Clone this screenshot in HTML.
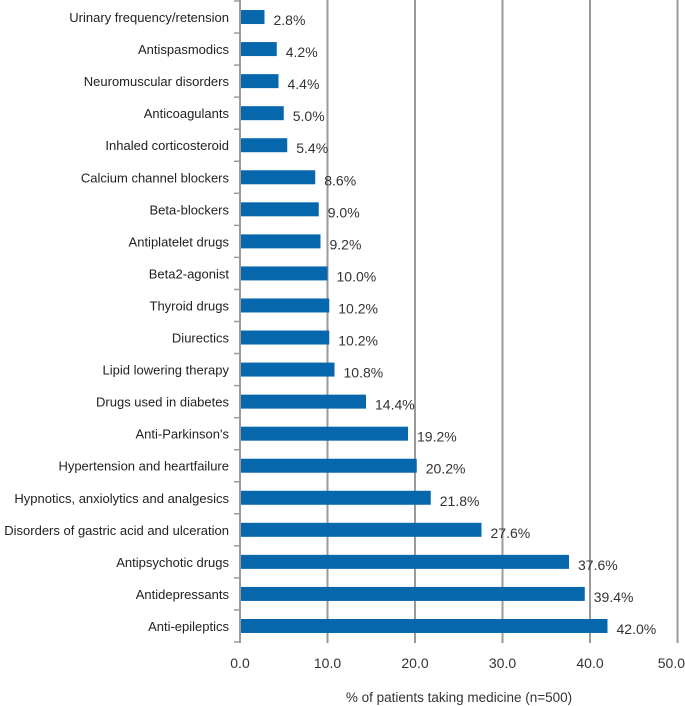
<!DOCTYPE html>
<html><head><meta charset="utf-8"><style>
html,body{margin:0;padding:0;background:#fff;}
svg{display:block;font-family:"Liberation Sans",sans-serif;}
</style></head><body>
<svg id="chart" width="685" height="706"></svg>
<script>
const categories=["Urinary frequency/retension","Antispasmodics","Neuromuscular disorders","Anticoagulants","Inhaled corticosteroid","Calcium channel blockers","Beta-blockers","Antiplatelet drugs","Beta2-agonist","Thyroid drugs","Diurectics","Lipid lowering therapy","Drugs used in diabetes","Anti-Parkinson's","Hypertension and heartfailure","Hypnotics, anxiolytics and analgesics","Disorders of gastric acid and ulceration","Antipsychotic drugs","Antidepressants","Anti-epileptics"];
const values=[2.8,4.2,4.4,5.0,5.4,8.6,9.0,9.2,10.0,10.2,10.2,10.8,14.4,19.2,20.2,21.8,27.6,37.6,39.4,42.0];
const ticks=[0,10,20,30,40,50];
const tickLabels=["0.0","10.0","20.0","30.0","40.0","50.0"];
const NS="http://www.w3.org/2000/svg";
const svg=document.getElementById('chart');
const x0=240,pxPer=8.75,rowTop=1,rowH=32.05,barH=14;
const xs=v=>x0+v*pxPer;
const yc=i=>rowTop+rowH*(i+0.5);
function mk(tag,attrs,parent){const e=document.createElementNS(NS,tag);for(const k in attrs)e.setAttribute(k,attrs[k]);(parent||svg).appendChild(e);return e;}
ticks.forEach((t,i)=>{
 if(i>0){const g=mk('line',{x1:xs(t),x2:xs(t),y1:0,y2:643,stroke:'#9a9a9a','stroke-width':2});
 
 }
 const last=i===ticks.length-1;
 const tl=mk('text',{x:last?685:xs(t),y:668,'text-anchor':last?'end':'middle','font-size':14,fill:'#333'});
 tl.textContent=tickLabels[i];
 
 
});
const ax=mk('line',{x1:x0,x2:x0,y1:0,y2:643,stroke:'#9a9a9a','stroke-width':2});


for(let i=0;i<=categories.length;i++){
 const tk=mk('line',{x1:x0-6,x2:x0,y1:rowTop+rowH*i,y2:rowTop+rowH*i,stroke:'#9a9a9a','stroke-width':1.5});
 
 
}
categories.forEach((c,i)=>{
 const cy=yc(i);
 const lab=mk('text',{x:229,y:cy+5,'text-anchor':'end','font-size':13,fill:'#222'});
 lab.textContent=c;
 
 
 const b=mk('rect',{x:x0+1,y:cy-barH/2,width:xs(values[i])-x0-1,height:barH,fill:'#0767ad'});
 
 
 const v=mk('text',{x:xs(values[i])+9,y:cy+8,'font-size':14,fill:'#333'});
 v.textContent=values[i].toFixed(1)+'%';
 
 
});
const t=mk('text',{x:459,y:702,'text-anchor':'middle','font-size':13.5,fill:'#333'});
t.textContent='% of patients taking medicine (n=500)';


</script>
</body></html>
